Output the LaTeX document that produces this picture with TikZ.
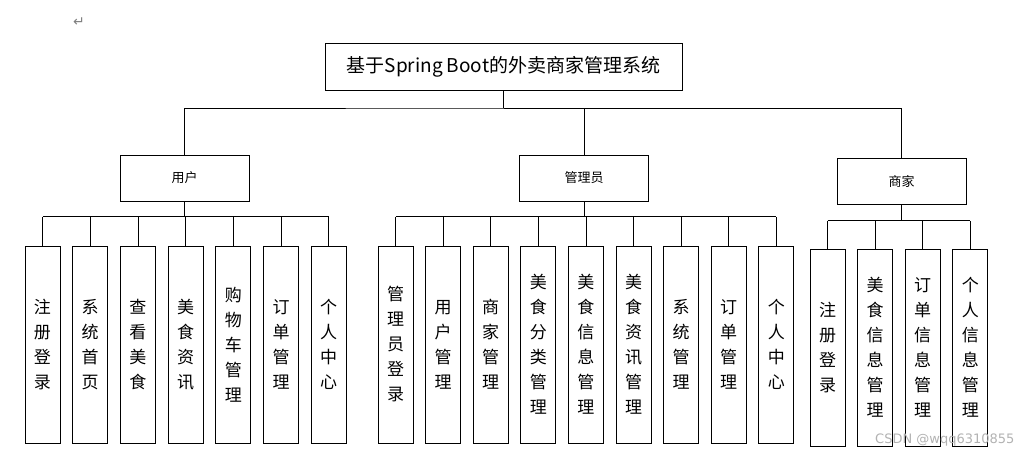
\documentclass[tikz,border=0pt]{standalone}
\usepackage{fontspec}
\usetikzlibrary{calc}
\newfontfamily\cjk{Noto Sans CJK SC}
\newfontfamily\djfont{DejaVu Sans}
\begin{document}
\begin{tikzpicture}[x=1pt,y=-1pt,
  box/.style={draw,line width=0.8pt,inner sep=0pt,font=\cjk},
  leaf/.style={box,minimum width=35pt,minimum height=197pt,align=center,font=\cjk\fontsize{17}{25}\selectfont},
  mid/.style={box,minimum width=129pt,minimum height=46pt,font=\cjk\fontsize{13}{15}\selectfont},
  ln/.style={line width=0.8pt}]
\useasboundingbox (0,0) rectangle (1021,458);
\node[font=\djfont\fontsize{14}{14}\selectfont,text=gray] (ret) at (79,22) {↵};
\node[box,minimum width=357pt,minimum height=47pt,font=\cjk\fontsize{19}{22}\selectfont] (top) at (503.5,66.5) {基于Spring Boot的外卖商家管理系统};
\node[mid] (u) at (184.5,178) {用户};
\node[mid] (a) at (584,178) {管理员};
\node[mid] (s) at (901.5,181) {商家};
\coordinate (j0) at (503.5,108);
\draw[ln] (top.south) -- (j0);
\draw[ln] (u.north) |- (j0) -| (a.north);
\draw[ln] (j0) -| (s.north);
\foreach \t [count=\i] in {注\\册\\登\\录,系\\统\\首\\页,查\\看\\美\\食,美\\食\\资\\讯,购\\物\\车\\管\\理,订\\单\\管\\理,个\\人\\中\\心}{
  \node[leaf] (u\i) at ({42.5+47.7*(\i-1)},344.5) {\t};
  \draw[ln] (u\i.north) -- ++(0,-29);
}
\draw[ln] (u.south) -- ++(0,16);
\draw[ln] ($(u1.north)+(0,-29)$) -- ($(u7.north)+(0,-29)$);
\foreach \t [count=\i] in {管\\理\\员\\登\\录,用\\户\\管\\理,商\\家\\管\\理,美\\食\\分\\类\\管\\理,美\\食\\信\\息\\管\\理,美\\食\\资\\讯\\管\\理,系\\统\\管\\理,订\\单\\管\\理,个\\人\\中\\心}{
  \node[leaf] (a\i) at ({395.5+47.6*(\i-1)},344.5) {\t};
  \draw[ln] (a\i.north) -- ++(0,-29);
}
\draw[ln] (a.south) -- ++(0,16);
\draw[ln] ($(a1.north)+(0,-29)$) -- ($(a9.north)+(0,-29)$);
\foreach \t [count=\i] in {注\\册\\登\\录,美\\食\\信\\息\\管\\理,订\\单\\信\\息\\管\\理,个\\人\\信\\息\\管\\理}{
  \node[leaf] (s\i) at ({827.5+47.6*(\i-1)},347.5) {\t};
  \draw[ln] (s\i.north) -- ++(0,-28);
}
\draw[ln] (s.south) -- ++(0,17);
\draw[ln] ($(s1.north)+(0,-28)$) -- ($(s4.north)+(0,-28)$);
\node[font=\djfont\fontsize{13}{13}\selectfont,text=gray!60,anchor=east] (wm) at (1018,440) {CSDN @wqq6310855};
\end{tikzpicture}
\end{document}
